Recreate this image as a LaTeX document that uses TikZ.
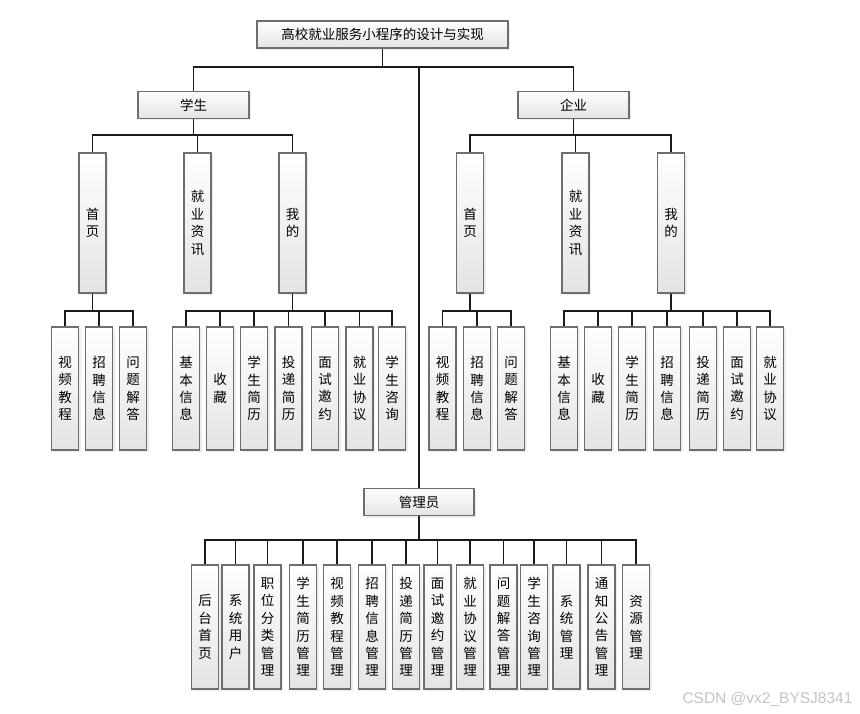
\documentclass[tikz,border=0pt]{standalone}
\usepackage{fontspec}
\newfontfamily\cjk{Noto Sans CJK SC}
\newfontfamily\wmfont{Liberation Sans}
\usepackage{tikz}
\usetikzlibrary{shadows}
\usepackage{xcolor}
\definecolor{cbord}{HTML}{6E6E6E}
\definecolor{cfill}{HTML}{E4E4E4}
\definecolor{cline}{HTML}{1A1A1A}
\definecolor{cmark}{HTML}{C4C4C4}

\begin{document}
\begin{tikzpicture}[
  x=1pt, y=-1pt,
  box/.style={draw=cbord, line width=1.2pt, top color=white, bottom color=cfill,
              inner sep=0pt, align=center, minimum width=27pt,
              drop shadow={shadow xshift=2pt, shadow yshift=-2pt, fill=black!14},
              font=\cjk\fontsize{13.5}{17.4}\selectfont},
  wide/.style={box, minimum height=27pt},
  tall/.style={box, minimum height=140pt},
  leaf/.style={box, minimum height=123pt},
  wire/.style={cline, line width=1.1pt},
]
\useasboundingbox (0,0) rectangle (860,714);
% ---------- levels 0 and 1 ----------
\node[wide, minimum width=251pt] (t) at (382.5,34.5) {高校就业服务小程序的设计与实现};
\node[wide, minimum width=111pt] (s) at (193.5,105) {学生};
\node[wide, minimum width=111pt] (e) at (573.5,105) {企业};
\node[wide, minimum width=110pt] (m) at (419,502) {管理员};
\coordinate (tbar) at (0,67);
\foreach \c in {s,e,m}
  \draw[wire] (t.south) -- (t.south |- tbar) -| (\c.north);
% ---------- student side ----------
\foreach \n/\x/\t in {s1/92.5/{首\\页}, s2/197.5/{就\\业\\资\\讯}, s3/292.5/{我\\的}}
  \node[tall] (\n) at (\x,223) {\t};
\foreach \n/\x/\t in {s11/65/{视\\频\\教\\程}, s12/99/{招\\聘\\信\\息}, s13/133/{问\\题\\解\\答},
    s31/186/{基\\本\\信\\息}, s32/220/{收\\藏}, s33/254/{学\\生\\简\\历},
    s34/288.5/{投\\递\\简\\历}, s35/325/{面\\试\\邀\\约}, s36/359.5/{就\\业\\协\\议},
    s37/392/{学\\生\\咨\\询}}
  \node[leaf] (\n) at (\x,388.5) {\t};
% ---------- enterprise side ----------
\foreach \n/\x/\t in {e1/470/{首\\页}, e2/575.5/{就\\业\\资\\讯}, e3/671/{我\\的}}
  \node[tall] (\n) at (\x,223) {\t};
\foreach \n/\x/\t in {e11/442.5/{视\\频\\教\\程}, e12/477/{招\\聘\\信\\息}, e13/511/{问\\题\\解\\答},
    e31/564/{基\\本\\信\\息}, e32/598/{收\\藏}, e33/632/{学\\生\\简\\历},
    e34/667/{招\\聘\\信\\息}, e35/703/{投\\递\\简\\历}, e36/737/{面\\试\\邀\\约},
    e37/770/{就\\业\\协\\议}}
  \node[leaf] (\n) at (\x,388.5) {\t};
% ---------- connectors, levels 1 to 3 ----------
\coordinate (mbar) at (0,135);
\coordinate (lbar) at (0,311);
\foreach \p in {s,e}{
  \foreach \c in {1,2,3}
    \draw[wire] (\p.south) -- (\p.south |- mbar) -| (\p\c.north);
  \foreach \c in {1,2,3}
    \draw[wire] (\p1.south) -- (\p1.south |- lbar) -| (\p1\c.north);
  \foreach \c in {1,...,7}
    \draw[wire] (\p3.south) -- (\p3.south |- lbar) -| (\p3\c.north);
}
% ---------- admin side ----------
\foreach \n/\x/\t in {m1/205/{后\\台\\首\\页}, m2/235.5/{系\\统\\用\\户}, m3/267.5/{职\\位\\分\\类\\管\\理},
    m4/303/{学\\生\\简\\历\\管\\理}, m5/337/{视\\频\\教\\程\\管\\理}, m6/372/{招\\聘\\信\\息\\管\\理},
    m7/406/{投\\递\\简\\历\\管\\理}, m8/437.5/{面\\试\\邀\\约\\管\\理}, m9/470/{就\\业\\协\\议\\管\\理},
    m10/503.5/{问\\题\\解\\答\\管\\理}, m11/534/{学\\生\\咨\\询\\管\\理}, m12/566.5/{系\\统\\管\\理},
    m13/601.5/{通\\知\\公\\告\\管\\理}, m14/636/{资\\源\\管\\理}}
  \node[box, minimum height=124pt] (\n) at (\x,627) {\t};
\coordinate (abar) at (0,540);
\foreach \c in {1,...,14}
  \draw[wire] (m.south) -- (m.south |- abar) -| (m\c.north);
% watermark
\node[anchor=east, text=cmark, font=\wmfont\fontsize{15.5}{18}\selectfont] (wm) at (856,699) {CSDN @vx2\_BYSJ8341};
\end{tikzpicture}
\end{document}
